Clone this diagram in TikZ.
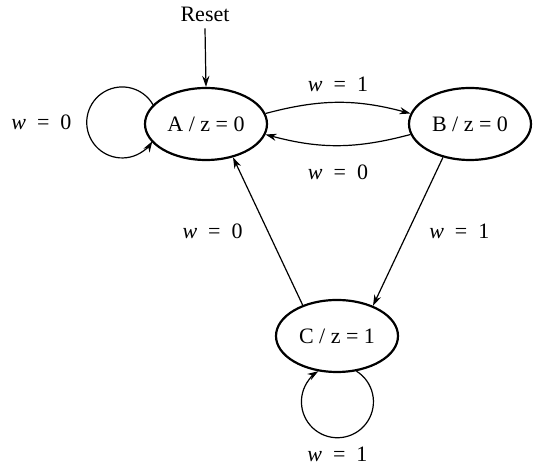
\documentclass[tikz,border=0pt]{standalone}
\usepackage{fontspec}
\setmainfont{Liberation Serif}
\usetikzlibrary{shapes.geometric,arrows.meta}
\begin{document}
\begin{tikzpicture}[x=0.5pt,y=0.5pt,>={Stealth[length=5.5pt,width=3.6pt]},font=\fontsize{11}{13}\selectfont]
			\tikzset{state/.style={draw,ellipse,line width=1.1pt,minimum width=61pt,minimum height=36pt,inner sep=0pt},
				edge/.style={->,line width=0.6pt}}
			\def\wval#1{\textit{w}\enspace=\enspace#1}
			\useasboundingbox (0,0) rectangle (538,466);
			\node[state] (A) at (206,342) {A / z = 0};
			\node[state] (B) at (470,342) {B / z = 0};
			\node[state] (C) at (337,130) {C / z = 1};
			\node (reset) at (205,452) {Reset};
			\draw[edge] (reset.south) -- (A.north);
			\draw[edge] (A.160) arc[start angle=30,end angle=328,radius=35.5]
				node[pos=0.5,left=4pt]{\wval{0}};
			\draw[edge] (A.10) to[bend left=15] node[above=2pt]{\wval{1}} (B.170);
			\draw[edge] (B.190) to[bend left=15] node[below=6pt]{\wval{0}} (A.-10);
			\draw[edge] (B.231) -- node[right=7pt]{\wval{1}} (C.40);
			\draw[edge] (C.138) -- node[left=9pt]{\wval{0}} (A.-51.5);
			\draw[edge] (C.-61) arc[start angle=58,end angle=-238,radius=36]
				node[pos=0.5,below=1pt]{\wval{1}};
		\end{tikzpicture}
\end{document}
